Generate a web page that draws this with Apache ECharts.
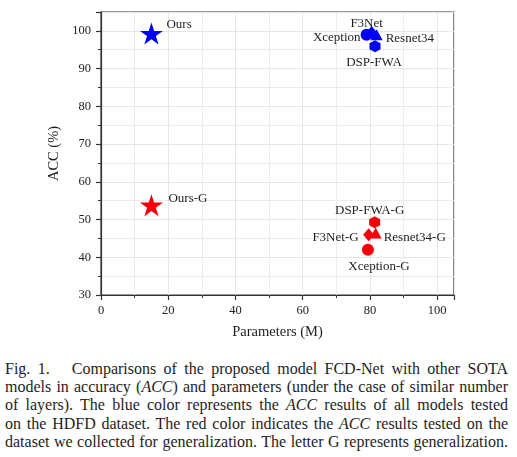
<!DOCTYPE html>
<html>
<head>
<meta charset="utf-8">
<script src="https://cdn.jsdelivr.net/npm/echarts@6/dist/echarts.min.js"></script>
<style>
  html, body { margin:0; padding:0; background:#fff; }
  #chart { position:absolute; left:0; top:0; width:517px; height:345px; }
  #caption { position:absolute; left:5px; top:360px; width:503px; font-family:'Liberation Serif','Times New Roman',serif; font-size:16px; line-height:18.2px; color:#1e1e1e; }
  #caption div { text-align:justify; text-align-last:justify; white-space:nowrap; }
</style>
</head>
<body>
<div id="chart"></div>
<div id="caption">
  <div>Fig. 1.&nbsp;&nbsp; Comparisons of the proposed model FCD-Net with other SOTA</div>
  <div>models in accuracy (<i>ACC</i>) and parameters (under the case of similar number</div>
  <div>of layers). The blue color represents the <i>ACC</i> results of all models tested</div>
  <div>on the HDFD dataset. The red color indicates the <i>ACC</i> results tested on the</div>
  <div>dataset we collected for generalization. The letter G represents generalization.</div>
</div>
<script>
// ---- data ----
const blueNames  = ['Ours', 'Xception', 'F3Net', 'Resnet34', 'DSP-FWA'];
const blueParams = [15, 79, 80.5, 82, 81.5];
const blueAcc    = [99.3, 99.0, 99.6, 99.0, 95.9];

const redNames  = ['Ours-G', 'Xception-G', 'F3Net-G', 'Resnet34-G', 'DSP-FWA-G'];
const redParams = [15, 79.4, 79.6, 81.7, 81.4];
const redAcc    = [53.8, 42.0, 46.0, 46.4, 49.3];

const xTicks = [0, 20, 40, 60, 80, 100];
const yTicks = [30, 40, 50, 60, 70, 80, 90, 100];

// ---- styling ----
const STAR = 'path://M50,0 L61.2,34.5 L97.6,34.5 L68.2,55.9 L79.4,90.5 L50,69.1 L20.6,90.5 L31.8,55.9 L2.4,34.5 L38.8,34.5 Z';
const HEX = 'path://M50,0 L93.3,25 L93.3,75 L50,100 L6.7,75 L6.7,25 Z';
const symbols = [STAR, 'circle', 'diamond', 'triangle', HEX];
const sizes = [[23, 22], 12, [11, 13], [12, 11], [11, 12]];
const blueLabel = [
  {align:'left',   offset:[15, -9]},
  {align:'right',  offset:[-6, 3]},
  {align:'center', offset:[-5, -9]},
  {align:'left',   offset:[9, 4]},
  {align:'center', offset:[-1, 16]}
];
const redLabel = [
  {align:'left',   offset:[17, -7]},
  {align:'center', offset:[11, 17]},
  {align:'right',  offset:[-10, 3]},
  {align:'left',   offset:[8, 4]},
  {align:'center', offset:[-5, -12]}
];
const FONT = "'Liberation Serif','Times New Roman',serif";

function buildData(names, xs, ys, lbls) {
  return names.map((n, i) => ({
    name: n,
    value: [xs[i], ys[i]],
    symbol: symbols[i],
    symbolSize: sizes[i],
    label: {
      show: true, position: 'inside', formatter: n,
      align: lbls[i].align, verticalAlign: 'middle', offset: lbls[i].offset,
      color: '#1e1e1e', fontFamily: FONT, fontSize: 13
    }
  }));
}

const chart = echarts.init(document.getElementById('chart'), null, {renderer:'canvas'});
const axisLineStyle = {color:'#333', width:1.2};
chart.setOption({
  animation: false,
  backgroundColor: '#fff',
  grid: {left:101, right:63, top:12, bottom:49, show:true, borderColor:'#333', borderWidth:1.2, backgroundColor:'transparent'},
  xAxis: {
    type: 'value', min: 0, max: 105, interval: 20,
    name: 'Parameters (M)', nameLocation: 'middle', nameGap: 30,
    nameTextStyle: {fontFamily: FONT, fontSize: 14.5, color:'#1e1e1e'},
    axisLine: {show:true, lineStyle: axisLineStyle},
    axisTick: {show:true, inside:false, length:5, lineStyle: axisLineStyle},
    minorTick: {show:true, splitNumber:2, length:3, lineStyle:{color:'#333', width:1}},
    splitLine: {show:true, lineStyle:{color:'#e6e6e6', width:1}},
    minorSplitLine: {show:true, lineStyle:{color:'#ececec', width:1}},
    axisLabel: {margin:9, fontFamily: FONT, fontSize:12.5, color:'#1e1e1e', showMaxLabel:false,
      formatter: v => xTicks.includes(v) ? String(v) : ''}
  },
  yAxis: {
    type: 'value', min: 30, max: 105, interval: 10,
    name: 'ACC (%)', nameLocation: 'middle', nameGap: 30, nameRotate: 90,
    nameTextStyle: {fontFamily: FONT, fontSize: 14.5, color:'#1e1e1e'},
    axisLine: {show:true, lineStyle: axisLineStyle},
    axisTick: {show:true, inside:false, length:5, lineStyle: axisLineStyle},
    minorTick: {show:true, splitNumber:2, length:3, lineStyle:{color:'#333', width:1}},
    splitLine: {show:true, lineStyle:{color:'#e6e6e6', width:1}},
    minorSplitLine: {show:true, lineStyle:{color:'#ececec', width:1}},
    axisLabel: {margin:10, fontFamily: FONT, fontSize:12.5, color:'#1e1e1e', showMaxLabel:false,
      formatter: v => yTicks.includes(v) ? String(v) : ''}
  },
  series: [
    {
      name: 'HDFD', type: 'scatter',
      itemStyle: {color:'#0000f5', opacity:1},
      data: buildData(blueNames, blueParams, blueAcc, blueLabel)
    },
    {
      name: 'Generalization', type: 'scatter',
      itemStyle: {color:'#f5000a', opacity:1},
      data: buildData(redNames, redParams, redAcc, redLabel)
    }
  ]
});
</script>
</body>
</html>
